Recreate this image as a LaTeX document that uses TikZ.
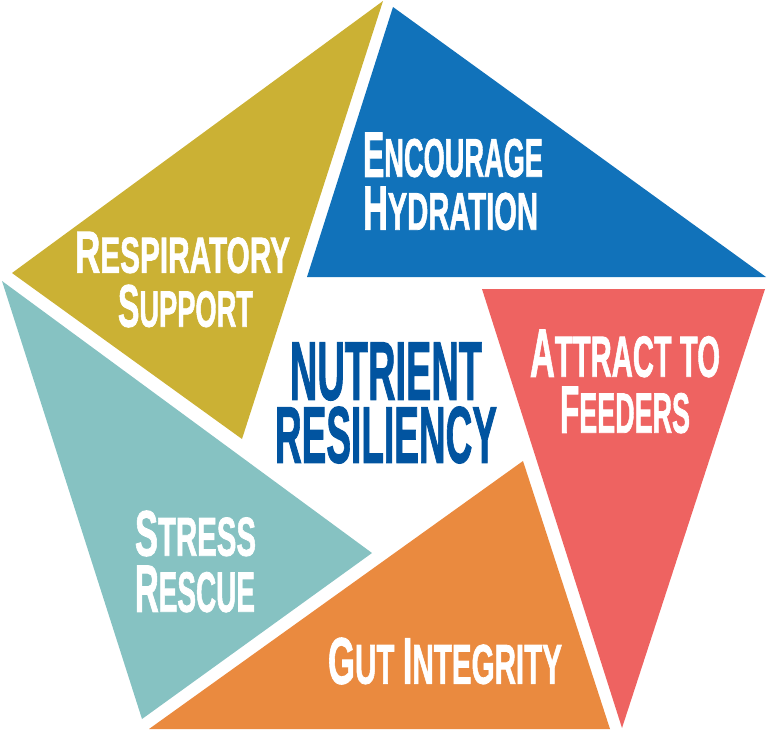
\documentclass[tikz,border=0pt]{standalone}
\usepackage{fontspec}
\setmainfont{Liberation Sans}
\newfontfamily\heavy[BoldFeatures={FakeBold=1.6}]{Liberation Sans}
\definecolor{cgold}{HTML}{CBB134}
\definecolor{cblue}{HTML}{1172BA}
\definecolor{cred}{HTML}{EE6361}
\definecolor{corange}{HTML}{EA8A3F}
\definecolor{cteal}{HTML}{86C2C2}
\definecolor{cnavy}{HTML}{0154A0}
\newcommand{\Bg}[1]{{\heavy\fontsize{20}{20}\selectfont\bfseries #1}}
\newcommand{\Sm}[1]{{\heavy\fontsize{17}{17}\selectfont\bfseries #1}}
\newcommand{\lbl}[3]{\resizebox{#1pt}{#2pt}{#3}}
\tikzset{
  wlbl/.style={inner sep=0pt, text=white, anchor=center},
  clbl/.style={inner sep=0pt, text=cnavy, anchor=center}
}
\begin{document}
\begin{tikzpicture}[x=1pt,y=-1pt]
\useasboundingbox (0,0) rectangle (768,731);
% triangles
\fill[cgold]   (383,1) -- (12,273) -- (242,439) -- cycle;
\fill[cblue]   (393,7) -- (307,277) -- (766,277) -- cycle;
\fill[cred]    (482,289) -- (765,289) -- (622,728) -- cycle;
\fill[corange] (523,461) -- (610,729) -- (149,729) -- cycle;
\fill[cteal]   (2,281) -- (142,719) -- (372,553) -- cycle;
% labels
\node[wlbl] (resp) at (182.5,252.5) {\lbl{215}{41}{\Bg{R}\Sm{ESPIRATORY}}};
\node[wlbl] (supp) at (185.5,306) {\lbl{135}{42}{\Bg{S}\Sm{UPPORT}}};
\node[wlbl] (enc) at (453,155) {\lbl{180}{44}{\Bg{E}\Sm{NCOURAGE}}};
\node[wlbl] (hyd) at (450.5,208.5) {\lbl{175}{43}{\Bg{H}\Sm{YDRATION}}};
\node[wlbl] (attr) at (625,353.5) {\lbl{190}{47}{\Bg{A}\Sm{TTRACT TO}}};
\node[wlbl] (feed) at (625,410) {\lbl{130}{46}{\Bg{F}\Sm{EEDERS}}};
\node[wlbl] (str) at (195.5,533.5) {\lbl{121}{45}{\Bg{S}\Sm{TRESS}}};
\node[wlbl] (resc) at (195,589) {\lbl{120}{46}{\Bg{R}\Sm{ESCUE}}};
\node[wlbl] (gut) at (445,661) {\lbl{234}{46}{\Bg{G}\Sm{UT }\Bg{I}\Sm{NTEGRITY}}};
\node[clbl] (nut) at (386,371.5) {\lbl{192}{57}{\Bg{NUTRIENT}}};
\node[clbl] (resil) at (386,435) {\lbl{222}{56}{\Bg{RESILIENCY}}};
\end{tikzpicture}
\end{document}
